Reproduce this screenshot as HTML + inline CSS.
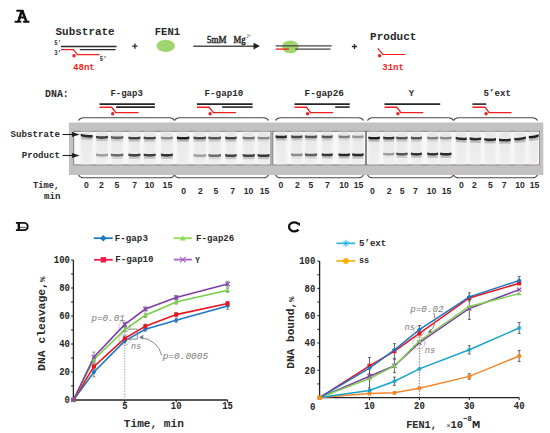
<!DOCTYPE html>
<html><head><meta charset="utf-8"><style>
html,body{margin:0;padding:0;background:#fff;width:550px;height:433px;overflow:hidden}
svg{display:block;font-family:"Liberation Mono",monospace}
</style></head><body>
<svg width="550" height="433" viewBox="0 0 550 433">
<rect width="550" height="433" fill="#fff"/>
<path d="M18.3 21.9L21.8 10.7M22.2 10.5L26.5 21.9" stroke="#111" stroke-width="2.5" fill="none"/>
<path d="M17.1 10.8H22.8M19.2 17.5H24.9M15.4 21.8H20.6M23.9 21.8H28.7" stroke="#111" stroke-width="1.9" stroke-linecap="round" fill="none"/>
<text x="55.5" y="34.5" font-size="11" font-family="Liberation Mono" font-weight="bold" fill="#2a2a2a" textLength="59.2" lengthAdjust="spacingAndGlyphs" >Substrate</text>
<text x="54.2" y="45" font-size="8" font-family="Liberation Mono" font-weight="bold" fill="#3a3a3a" textLength="7" lengthAdjust="spacingAndGlyphs" >5’</text>
<text x="54.2" y="54.6" font-size="8" font-family="Liberation Mono" font-weight="bold" fill="#3a3a3a" textLength="7" lengthAdjust="spacingAndGlyphs" >3’</text>
<text x="99.8" y="61.2" font-size="8" font-family="Liberation Mono" font-weight="bold" fill="#3a3a3a" textLength="7" lengthAdjust="spacingAndGlyphs" >5’</text>
<path d="M61 46.5H116.6M79.8 49.6H115.5" stroke="#2a2a2a" stroke-width="1.3" fill="none"/>
<path d="M61 49.6H73.3L77.6 54.6H99.5" stroke="#f21f1f" stroke-width="1.2" fill="none"/>
<circle cx="74" cy="55.8" r="1.7" fill="#f21f1f"/>
<text x="73" y="70" font-size="9" font-family="Liberation Mono" font-weight="bold" fill="#f21f1f" textLength="21.8" lengthAdjust="spacingAndGlyphs" >48nt</text>
<path d="M132.3 46.2H137.5M134.9 43.6V48.8" stroke="#2a2a2a" stroke-width="1.3"/>
<text x="154.8" y="34.8" font-size="10.5" font-family="Liberation Mono" font-weight="bold" fill="#2a2a2a" textLength="25.2" lengthAdjust="spacingAndGlyphs" >FEN1</text>
<ellipse cx="165.7" cy="45.9" rx="9.2" ry="6.1" fill="#9fd56d"/>
<path d="M193.2 46.2H255" stroke="#505050" stroke-width="1.6"/>
<path d="M253.5 42.8L260 46.1L253.5 49.4Z" fill="#222"/>
<text x="207.1" y="42.7" font-size="10.6" font-family="Liberation Serif" fill="#2a2a2a" textLength="19.5" lengthAdjust="spacingAndGlyphs" stroke="#2a2a2a" stroke-width="0.5">5mM</text>
<text x="233.5" y="42.7" font-size="10.6" font-family="Liberation Serif" fill="#2a2a2a" textLength="12.2" lengthAdjust="spacingAndGlyphs" stroke="#2a2a2a" stroke-width="0.5">Mg</text>
<text x="246.8" y="38" font-size="5.5" font-family="Liberation Serif" fill="#2a2a2a" textLength="3.8" lengthAdjust="spacingAndGlyphs" >2+</text>
<ellipse cx="290.4" cy="46.9" rx="8.3" ry="6.4" fill="#9fd56d"/>
<path d="M275.7 45.9H331.7M295.2 49.1H330.5" stroke="#444" stroke-width="1.3"/>
<path d="M275.7 49.1H289" stroke="#f21f1f" stroke-width="1.3"/>
<path d="M351.9 46.5H357.1M354.5 43.9V49.1" stroke="#2a2a2a" stroke-width="1.3"/>
<text x="370.1" y="40.3" font-size="11" font-family="Liberation Mono" font-weight="bold" fill="#2a2a2a" textLength="46.3" lengthAdjust="spacingAndGlyphs" >Product</text>
<path d="M377.8 48.3L383 54.5H405.5" stroke="#f21f1f" stroke-width="1.2" fill="none"/>
<circle cx="379.6" cy="55.8" r="1.7" fill="#f21f1f"/>
<text x="382.2" y="70.1" font-size="9" font-family="Liberation Mono" font-weight="bold" fill="#f21f1f" textLength="21.8" lengthAdjust="spacingAndGlyphs" >31nt</text>
<text x="45" y="96.6" font-size="10" font-family="Liberation Mono" font-weight="bold" fill="#2a2a2a" textLength="23.8" lengthAdjust="spacingAndGlyphs" >DNA:</text>
<text x="110.4" y="96.3" font-size="9" font-family="Liberation Mono" font-weight="bold" fill="#2a2a2a" textLength="32.400000000000006" lengthAdjust="spacingAndGlyphs" >F-gap3</text>
<text x="204.6" y="96.3" font-size="9" font-family="Liberation Mono" font-weight="bold" fill="#2a2a2a" textLength="38.599999999999994" lengthAdjust="spacingAndGlyphs" >F-gap10</text>
<text x="304.6" y="96.3" font-size="9" font-family="Liberation Mono" font-weight="bold" fill="#2a2a2a" textLength="39.299999999999955" lengthAdjust="spacingAndGlyphs" >F-gap26</text>
<text x="408.7" y="95.8" font-size="9" font-family="Liberation Mono" font-weight="bold" fill="#2a2a2a" textLength="5.300000000000011" lengthAdjust="spacingAndGlyphs" >Y</text>
<text x="483.6" y="96.1" font-size="9" font-family="Liberation Mono" font-weight="bold" fill="#2a2a2a" textLength="27.299999999999955" lengthAdjust="spacingAndGlyphs" >5’ext</text>
<path d="M99.5 104.1H154.9" stroke="#262626" stroke-width="1.6"/>
<path d="M116.1 107.1H154.9" stroke="#262626" stroke-width="1.6"/>
<path d="M99.5 107.2H111.6L116 112.6H138.6" stroke="#f21f1f" stroke-width="1.4" fill="none"/>
<circle cx="112.69999999999999" cy="113.8" r="1.7" fill="#f21f1f"/>
<path d="M196.9 104.1H252.6" stroke="#262626" stroke-width="1.6"/>
<path d="M222.1 107.1H252.6" stroke="#262626" stroke-width="1.6"/>
<path d="M196.9 107.2H209L213.4 112.6H235.9" stroke="#f21f1f" stroke-width="1.4" fill="none"/>
<circle cx="210.1" cy="113.8" r="1.7" fill="#f21f1f"/>
<path d="M294.5 104.1H349.7" stroke="#262626" stroke-width="1.6"/>
<path d="M335.2 107.1H349.7" stroke="#262626" stroke-width="1.6"/>
<path d="M294.5 107.2H306.5L310.5 112.6H333" stroke="#f21f1f" stroke-width="1.4" fill="none"/>
<circle cx="307.6" cy="113.8" r="1.7" fill="#f21f1f"/>
<path d="M384.5 104.1H440.2" stroke="#262626" stroke-width="1.6"/>
<path d="M384.5 107.2H396.8L400.9 112.6H423.3" stroke="#f21f1f" stroke-width="1.4" fill="none"/>
<circle cx="397.90000000000003" cy="113.8" r="1.7" fill="#f21f1f"/>
<path d="M472.4 104.1H486.2" stroke="#262626" stroke-width="1.6"/>
<path d="M472.4 107.2H485L489.1 112.6H511.6" stroke="#f21f1f" stroke-width="1.4" fill="none"/>
<circle cx="486.1" cy="113.8" r="1.7" fill="#f21f1f"/>
<path d="M78.5 120.6Q80.0 117.8 83.5 117.8H169.5Q173.0 117.8 174.5 120.6" stroke="#4a4a4a" stroke-width="1.1" fill="none"/>
<path d="M78.5 174.9Q80.0 177.7 83.5 177.7H169.5Q173.0 177.7 174.5 174.9" stroke="#4a4a4a" stroke-width="1.1" fill="none"/>
<path d="M174.5 120.6Q176.0 117.8 179.5 117.8H263.6Q267.1 117.8 268.6 120.6" stroke="#4a4a4a" stroke-width="1.1" fill="none"/>
<path d="M174.5 174.9Q176.0 177.7 179.5 177.7H263.6Q267.1 177.7 268.6 174.9" stroke="#4a4a4a" stroke-width="1.1" fill="none"/>
<path d="M275.5 120.6Q277.0 117.8 280.5 117.8H358.5Q362.0 117.8 363.5 120.6" stroke="#4a4a4a" stroke-width="1.1" fill="none"/>
<path d="M275.5 174.9Q277.0 177.7 280.5 177.7H358.5Q362.0 177.7 363.5 174.9" stroke="#4a4a4a" stroke-width="1.1" fill="none"/>
<path d="M367.5 120.6Q369.0 117.8 372.5 117.8H448.5Q452.0 117.8 453.5 120.6" stroke="#4a4a4a" stroke-width="1.1" fill="none"/>
<path d="M367.5 174.9Q369.0 177.7 372.5 177.7H448.5Q452.0 177.7 453.5 174.9" stroke="#4a4a4a" stroke-width="1.1" fill="none"/>
<path d="M453.5 120.6Q455.0 117.8 458.5 117.8H532.5Q536.0 117.8 537.5 120.6" stroke="#4a4a4a" stroke-width="1.1" fill="none"/>
<path d="M453.5 174.9Q455.0 177.7 458.5 177.7H532.5Q536.0 177.7 537.5 174.9" stroke="#4a4a4a" stroke-width="1.1" fill="none"/>
<rect x="68.9" y="122.5" width="474.4" height="52.5" fill="#c3c1c1"/>
<rect x="73.7" y="131.3" width="197.10000000000002" height="33.6" fill="#f8f8f8" stroke="#777" stroke-width="0.9"/>
<rect x="272.8" y="131.3" width="92.80000000000001" height="33.6" fill="#f8f8f8" stroke="#777" stroke-width="0.9"/>
<rect x="366.4" y="131.3" width="173.10000000000002" height="33.6" fill="#f8f8f8" stroke="#777" stroke-width="0.9"/>
<defs><linearGradient id="lg" x1="0" y1="0" x2="0" y2="1"><stop offset="0" stop-color="#e6e6e6"/><stop offset="1" stop-color="#efefef"/></linearGradient><filter id="bl" x="-20%" y="-100%" width="140%" height="300%"><feGaussianBlur stdDeviation="0.6"/></filter><filter id="bl2" x="-20%" y="-20%" width="140%" height="140%"><feGaussianBlur stdDeviation="0.8"/></filter></defs>
<rect x="81.0" y="132" width="11.400000000000006" height="32" fill="url(#lg)" filter="url(#bl2)"/>
<rect x="96.3" y="132" width="11.400000000000006" height="32" fill="url(#lg)" filter="url(#bl2)"/>
<rect x="111.2" y="132" width="11.799999999999997" height="32" fill="url(#lg)" filter="url(#bl2)"/>
<rect x="128.7" y="132" width="11.400000000000006" height="32" fill="url(#lg)" filter="url(#bl2)"/>
<rect x="144.0" y="132" width="11.400000000000006" height="32" fill="url(#lg)" filter="url(#bl2)"/>
<rect x="161.2" y="132" width="11.400000000000006" height="32" fill="url(#lg)" filter="url(#bl2)"/>
<rect x="177.2" y="132" width="11.800000000000011" height="32" fill="url(#lg)" filter="url(#bl2)"/>
<rect x="193.8" y="132" width="12.0" height="32" fill="url(#lg)" filter="url(#bl2)"/>
<rect x="208.7" y="132" width="12.0" height="32" fill="url(#lg)" filter="url(#bl2)"/>
<rect x="225.5" y="132" width="10.800000000000011" height="32" fill="url(#lg)" filter="url(#bl2)"/>
<rect x="243.0" y="132" width="11.5" height="32" fill="url(#lg)" filter="url(#bl2)"/>
<rect x="257.9" y="132" width="11.300000000000011" height="32" fill="url(#lg)" filter="url(#bl2)"/>
<rect x="275.8" y="132" width="10.800000000000011" height="32" fill="url(#lg)" filter="url(#bl2)"/>
<rect x="291.4" y="132" width="10.800000000000011" height="32" fill="url(#lg)" filter="url(#bl2)"/>
<rect x="305.2" y="132" width="11.600000000000023" height="32" fill="url(#lg)" filter="url(#bl2)"/>
<rect x="322.0" y="132" width="10.399999999999977" height="32" fill="url(#lg)" filter="url(#bl2)"/>
<rect x="338.8" y="132" width="10.800000000000011" height="32" fill="url(#lg)" filter="url(#bl2)"/>
<rect x="352.5" y="132" width="10.800000000000011" height="32" fill="url(#lg)" filter="url(#bl2)"/>
<rect x="368.6" y="132" width="11.0" height="32" fill="url(#lg)" filter="url(#bl2)"/>
<rect x="383.5" y="132" width="10.5" height="32" fill="url(#lg)" filter="url(#bl2)"/>
<rect x="396.5" y="132" width="10.800000000000011" height="32" fill="url(#lg)" filter="url(#bl2)"/>
<rect x="411.2" y="132" width="10.400000000000034" height="32" fill="url(#lg)" filter="url(#bl2)"/>
<rect x="427.5" y="132" width="10.399999999999977" height="32" fill="url(#lg)" filter="url(#bl2)"/>
<rect x="440.4" y="132" width="10.800000000000011" height="32" fill="url(#lg)" filter="url(#bl2)"/>
<rect x="456.0" y="132" width="10.5" height="32" fill="url(#lg)" filter="url(#bl2)"/>
<rect x="469.9" y="132" width="10.900000000000034" height="32" fill="url(#lg)" filter="url(#bl2)"/>
<rect x="484.6" y="132" width="11.099999999999966" height="32" fill="url(#lg)" filter="url(#bl2)"/>
<rect x="499.3" y="132" width="11.099999999999966" height="32" fill="url(#lg)" filter="url(#bl2)"/>
<rect x="514.6" y="132" width="11.0" height="32" fill="url(#lg)" filter="url(#bl2)"/>
<rect x="529.1" y="132" width="9.299999999999955" height="32" fill="url(#lg)" filter="url(#bl2)"/>
<path d="M80.7 133.85Q86.7 135.4 92.7 134.95000000000002V137.45000000000002Q86.7 138.2 80.7 136.35Z" fill="rgb(41,41,41)" filter="url(#bl)"/>
<path d="M81.0 136.64999999999998L92.4 137.75V140.25L81.0 139.14999999999998Z" fill="rgb(101,101,101)" opacity="0.35" filter="url(#bl)"/>
<path d="M96.0 135.8Q102.0 136.8 108.0 135.8V138.3Q102.0 139.6 96.0 138.3Z" fill="rgb(63,63,63)" filter="url(#bl)"/>
<path d="M96.3 138.6L107.7 138.6V141.1L96.3 141.1Z" fill="rgb(123,123,123)" opacity="0.35" filter="url(#bl)"/>
<path d="M96.0 153.6Q102.0 154.6 108.0 153.6V156.1Q102.0 157.39999999999998 96.0 156.1Z" fill="rgb(159,159,159)" filter="url(#bl)"/>
<path d="M96.3 156.39999999999998L107.7 156.39999999999998V158.89999999999998L96.3 158.89999999999998Z" fill="rgb(219,219,219)" opacity="0.35" filter="url(#bl)"/>
<path d="M110.9 136.0Q117.1 137.0 123.3 136.0V138.5Q117.1 139.79999999999998 110.9 138.5Z" fill="rgb(95,95,95)" filter="url(#bl)"/>
<path d="M111.2 138.79999999999998L123.0 138.79999999999998V141.29999999999998L111.2 141.29999999999998Z" fill="rgb(155,155,155)" opacity="0.35" filter="url(#bl)"/>
<path d="M110.9 153.6Q117.1 154.6 123.3 153.6V156.1Q117.1 157.39999999999998 110.9 156.1Z" fill="rgb(106,106,106)" filter="url(#bl)"/>
<path d="M111.2 156.39999999999998L123.0 156.39999999999998V158.89999999999998L111.2 158.89999999999998Z" fill="rgb(166,166,166)" opacity="0.35" filter="url(#bl)"/>
<path d="M128.39999999999998 136.4Q134.39999999999998 137.4 140.4 136.4V138.9Q134.39999999999998 140.2 128.39999999999998 138.9Z" fill="rgb(63,63,63)" filter="url(#bl)"/>
<path d="M128.7 139.2L140.1 139.2V141.7L128.7 141.7Z" fill="rgb(123,123,123)" opacity="0.35" filter="url(#bl)"/>
<path d="M128.39999999999998 153.6Q134.39999999999998 154.6 140.4 153.6V156.1Q134.39999999999998 157.39999999999998 128.39999999999998 156.1Z" fill="rgb(63,63,63)" filter="url(#bl)"/>
<path d="M128.7 156.39999999999998L140.1 156.39999999999998V158.89999999999998L128.7 158.89999999999998Z" fill="rgb(123,123,123)" opacity="0.35" filter="url(#bl)"/>
<path d="M143.7 136.4Q149.7 137.4 155.70000000000002 136.4V138.9Q149.7 140.2 143.7 138.9Z" fill="rgb(73,73,73)" filter="url(#bl)"/>
<path d="M144.0 139.2L155.4 139.2V141.7L144.0 141.7Z" fill="rgb(133,133,133)" opacity="0.35" filter="url(#bl)"/>
<path d="M143.7 153.6Q149.7 154.6 155.70000000000002 153.6V156.1Q149.7 157.39999999999998 143.7 156.1Z" fill="rgb(63,63,63)" filter="url(#bl)"/>
<path d="M144.0 156.39999999999998L155.4 156.39999999999998V158.89999999999998L144.0 158.89999999999998Z" fill="rgb(123,123,123)" opacity="0.35" filter="url(#bl)"/>
<path d="M160.89999999999998 136.4Q166.89999999999998 137.4 172.9 136.4V138.9Q166.89999999999998 140.2 160.89999999999998 138.9Z" fill="rgb(138,138,138)" filter="url(#bl)"/>
<path d="M161.2 139.2L172.6 139.2V141.7L161.2 141.7Z" fill="rgb(198,198,198)" opacity="0.35" filter="url(#bl)"/>
<path d="M160.89999999999998 153.6Q166.89999999999998 154.6 172.9 153.6V156.1Q166.89999999999998 157.39999999999998 160.89999999999998 156.1Z" fill="rgb(52,52,52)" filter="url(#bl)"/>
<path d="M161.2 156.39999999999998L172.6 156.39999999999998V158.89999999999998L161.2 158.89999999999998Z" fill="rgb(112,112,112)" opacity="0.35" filter="url(#bl)"/>
<path d="M176.89999999999998 136.4Q183.1 137.4 189.3 136.4V138.9Q183.1 140.2 176.89999999999998 138.9Z" fill="rgb(30,30,30)" filter="url(#bl)"/>
<path d="M177.2 139.2L189.0 139.2V141.7L177.2 141.7Z" fill="rgb(90,90,90)" opacity="0.35" filter="url(#bl)"/>
<path d="M193.5 136.4Q199.8 137.4 206.10000000000002 136.4V138.9Q199.8 140.2 193.5 138.9Z" fill="rgb(73,73,73)" filter="url(#bl)"/>
<path d="M193.8 139.2L205.8 139.2V141.7L193.8 141.7Z" fill="rgb(133,133,133)" opacity="0.35" filter="url(#bl)"/>
<path d="M193.5 153.9Q199.8 154.9 206.10000000000002 153.9V156.4Q199.8 157.7 193.5 156.4Z" fill="rgb(159,159,159)" filter="url(#bl)"/>
<path d="M193.8 156.7L205.8 156.7V159.2L193.8 159.2Z" fill="rgb(219,219,219)" opacity="0.35" filter="url(#bl)"/>
<path d="M208.39999999999998 136.4Q214.7 137.4 221.0 136.4V138.9Q214.7 140.2 208.39999999999998 138.9Z" fill="rgb(84,84,84)" filter="url(#bl)"/>
<path d="M208.7 139.2L220.7 139.2V141.7L208.7 141.7Z" fill="rgb(144,144,144)" opacity="0.35" filter="url(#bl)"/>
<path d="M208.39999999999998 153.9Q214.7 154.9 221.0 153.9V156.4Q214.7 157.7 208.39999999999998 156.4Z" fill="rgb(106,106,106)" filter="url(#bl)"/>
<path d="M208.7 156.7L220.7 156.7V159.2L208.7 159.2Z" fill="rgb(166,166,166)" opacity="0.35" filter="url(#bl)"/>
<path d="M225.2 136.4Q230.9 137.4 236.60000000000002 136.4V138.9Q230.9 140.2 225.2 138.9Z" fill="rgb(63,63,63)" filter="url(#bl)"/>
<path d="M225.5 139.2L236.3 139.2V141.7L225.5 141.7Z" fill="rgb(123,123,123)" opacity="0.35" filter="url(#bl)"/>
<path d="M225.2 153.9Q230.9 154.9 236.60000000000002 153.9V156.4Q230.9 157.7 225.2 156.4Z" fill="rgb(63,63,63)" filter="url(#bl)"/>
<path d="M225.5 156.7L236.3 156.7V159.2L225.5 159.2Z" fill="rgb(123,123,123)" opacity="0.35" filter="url(#bl)"/>
<path d="M242.7 136.4Q248.75 137.4 254.8 136.4V138.9Q248.75 140.2 242.7 138.9Z" fill="rgb(116,116,116)" filter="url(#bl)"/>
<path d="M243.0 139.2L254.5 139.2V141.7L243.0 141.7Z" fill="rgb(176,176,176)" opacity="0.35" filter="url(#bl)"/>
<path d="M242.7 153.9Q248.75 154.9 254.8 153.9V156.4Q248.75 157.7 242.7 156.4Z" fill="rgb(63,63,63)" filter="url(#bl)"/>
<path d="M243.0 156.7L254.5 156.7V159.2L243.0 159.2Z" fill="rgb(123,123,123)" opacity="0.35" filter="url(#bl)"/>
<path d="M257.59999999999997 136.4Q263.54999999999995 137.4 269.5 136.4V138.9Q263.54999999999995 140.2 257.59999999999997 138.9Z" fill="rgb(138,138,138)" filter="url(#bl)"/>
<path d="M257.9 139.2L269.2 139.2V141.7L257.9 141.7Z" fill="rgb(198,198,198)" opacity="0.35" filter="url(#bl)"/>
<path d="M257.59999999999997 153.9Q263.54999999999995 154.9 269.5 153.9V156.4Q263.54999999999995 157.7 257.59999999999997 156.4Z" fill="rgb(52,52,52)" filter="url(#bl)"/>
<path d="M257.9 156.7L269.2 156.7V159.2L257.9 159.2Z" fill="rgb(112,112,112)" opacity="0.35" filter="url(#bl)"/>
<path d="M275.5 135.20000000000002Q281.20000000000005 136.20000000000002 286.90000000000003 135.20000000000002V137.70000000000002Q281.20000000000005 139.0 275.5 137.70000000000002Z" fill="rgb(41,41,41)" filter="url(#bl)"/>
<path d="M275.8 138.0L286.6 138.0V140.5L275.8 140.5Z" fill="rgb(101,101,101)" opacity="0.35" filter="url(#bl)"/>
<path d="M291.09999999999997 135.20000000000002Q296.79999999999995 136.20000000000002 302.5 135.20000000000002V137.70000000000002Q296.79999999999995 139.0 291.09999999999997 137.70000000000002Z" fill="rgb(73,73,73)" filter="url(#bl)"/>
<path d="M291.4 138.0L302.2 138.0V140.5L291.4 140.5Z" fill="rgb(133,133,133)" opacity="0.35" filter="url(#bl)"/>
<path d="M291.09999999999997 153.20000000000002Q296.79999999999995 154.20000000000002 302.5 153.20000000000002V155.70000000000002Q296.79999999999995 157.0 291.09999999999997 155.70000000000002Z" fill="rgb(138,138,138)" filter="url(#bl)"/>
<path d="M291.4 156.0L302.2 156.0V158.5L291.4 158.5Z" fill="rgb(198,198,198)" opacity="0.35" filter="url(#bl)"/>
<path d="M304.9 135.20000000000002Q311.0 136.20000000000002 317.1 135.20000000000002V137.70000000000002Q311.0 139.0 304.9 137.70000000000002Z" fill="rgb(84,84,84)" filter="url(#bl)"/>
<path d="M305.2 138.0L316.8 138.0V140.5L305.2 140.5Z" fill="rgb(144,144,144)" opacity="0.35" filter="url(#bl)"/>
<path d="M304.9 153.20000000000002Q311.0 154.20000000000002 317.1 153.20000000000002V155.70000000000002Q311.0 157.0 304.9 155.70000000000002Z" fill="rgb(95,95,95)" filter="url(#bl)"/>
<path d="M305.2 156.0L316.8 156.0V158.5L305.2 158.5Z" fill="rgb(155,155,155)" opacity="0.35" filter="url(#bl)"/>
<path d="M321.7 135.20000000000002Q327.2 136.20000000000002 332.7 135.20000000000002V137.70000000000002Q327.2 139.0 321.7 137.70000000000002Z" fill="rgb(84,84,84)" filter="url(#bl)"/>
<path d="M322.0 138.0L332.4 138.0V140.5L322.0 140.5Z" fill="rgb(144,144,144)" opacity="0.35" filter="url(#bl)"/>
<path d="M321.7 153.20000000000002Q327.2 154.20000000000002 332.7 153.20000000000002V155.70000000000002Q327.2 157.0 321.7 155.70000000000002Z" fill="rgb(52,52,52)" filter="url(#bl)"/>
<path d="M322.0 156.0L332.4 156.0V158.5L322.0 158.5Z" fill="rgb(112,112,112)" opacity="0.35" filter="url(#bl)"/>
<path d="M338.5 135.20000000000002Q344.20000000000005 136.20000000000002 349.90000000000003 135.20000000000002V137.70000000000002Q344.20000000000005 139.0 338.5 137.70000000000002Z" fill="rgb(127,127,127)" filter="url(#bl)"/>
<path d="M338.8 138.0L349.6 138.0V140.5L338.8 140.5Z" fill="rgb(187,187,187)" opacity="0.35" filter="url(#bl)"/>
<path d="M338.5 153.20000000000002Q344.20000000000005 154.20000000000002 349.90000000000003 153.20000000000002V155.70000000000002Q344.20000000000005 157.0 338.5 155.70000000000002Z" fill="rgb(41,41,41)" filter="url(#bl)"/>
<path d="M338.8 156.0L349.6 156.0V158.5L338.8 158.5Z" fill="rgb(101,101,101)" opacity="0.35" filter="url(#bl)"/>
<path d="M352.2 135.20000000000002Q357.9 136.20000000000002 363.6 135.20000000000002V137.70000000000002Q357.9 139.0 352.2 137.70000000000002Z" fill="rgb(149,149,149)" filter="url(#bl)"/>
<path d="M352.5 138.0L363.3 138.0V140.5L352.5 140.5Z" fill="rgb(209,209,209)" opacity="0.35" filter="url(#bl)"/>
<path d="M352.2 153.20000000000002Q357.9 154.20000000000002 363.6 153.20000000000002V155.70000000000002Q357.9 157.0 352.2 155.70000000000002Z" fill="rgb(41,41,41)" filter="url(#bl)"/>
<path d="M352.5 156.0L363.3 156.0V158.5L352.5 158.5Z" fill="rgb(101,101,101)" opacity="0.35" filter="url(#bl)"/>
<path d="M368.3 136.4Q374.1 137.4 379.90000000000003 136.4V138.9Q374.1 140.2 368.3 138.9Z" fill="rgb(30,30,30)" filter="url(#bl)"/>
<path d="M368.6 139.2L379.6 139.2V141.7L368.6 141.7Z" fill="rgb(90,90,90)" opacity="0.35" filter="url(#bl)"/>
<path d="M383.2 136.4Q388.75 137.4 394.3 136.4V138.9Q388.75 140.2 383.2 138.9Z" fill="rgb(52,52,52)" filter="url(#bl)"/>
<path d="M383.5 139.2L394.0 139.2V141.7L383.5 141.7Z" fill="rgb(112,112,112)" opacity="0.35" filter="url(#bl)"/>
<path d="M383.2 152.6Q388.75 153.6 394.3 152.6V155.1Q388.75 156.39999999999998 383.2 155.1Z" fill="rgb(159,159,159)" filter="url(#bl)"/>
<path d="M383.5 155.39999999999998L394.0 155.39999999999998V157.89999999999998L383.5 157.89999999999998Z" fill="rgb(219,219,219)" opacity="0.35" filter="url(#bl)"/>
<path d="M396.2 136.4Q401.9 137.4 407.6 136.4V138.9Q401.9 140.2 396.2 138.9Z" fill="rgb(84,84,84)" filter="url(#bl)"/>
<path d="M396.5 139.2L407.3 139.2V141.7L396.5 141.7Z" fill="rgb(144,144,144)" opacity="0.35" filter="url(#bl)"/>
<path d="M396.2 152.6Q401.9 153.6 407.6 152.6V155.1Q401.9 156.39999999999998 396.2 155.1Z" fill="rgb(84,84,84)" filter="url(#bl)"/>
<path d="M396.5 155.39999999999998L407.3 155.39999999999998V157.89999999999998L396.5 157.89999999999998Z" fill="rgb(144,144,144)" opacity="0.35" filter="url(#bl)"/>
<path d="M410.9 136.4Q416.4 137.4 421.90000000000003 136.4V138.9Q416.4 140.2 410.9 138.9Z" fill="rgb(84,84,84)" filter="url(#bl)"/>
<path d="M411.2 139.2L421.6 139.2V141.7L411.2 141.7Z" fill="rgb(144,144,144)" opacity="0.35" filter="url(#bl)"/>
<path d="M410.9 152.6Q416.4 153.6 421.90000000000003 152.6V155.1Q416.4 156.39999999999998 410.9 155.1Z" fill="rgb(52,52,52)" filter="url(#bl)"/>
<path d="M411.2 155.39999999999998L421.6 155.39999999999998V157.89999999999998L411.2 157.89999999999998Z" fill="rgb(112,112,112)" opacity="0.35" filter="url(#bl)"/>
<path d="M427.2 136.4Q432.7 137.4 438.2 136.4V138.9Q432.7 140.2 427.2 138.9Z" fill="rgb(127,127,127)" filter="url(#bl)"/>
<path d="M427.5 139.2L437.9 139.2V141.7L427.5 141.7Z" fill="rgb(187,187,187)" opacity="0.35" filter="url(#bl)"/>
<path d="M427.2 152.6Q432.7 153.6 438.2 152.6V155.1Q432.7 156.39999999999998 427.2 155.1Z" fill="rgb(52,52,52)" filter="url(#bl)"/>
<path d="M427.5 155.39999999999998L437.9 155.39999999999998V157.89999999999998L427.5 157.89999999999998Z" fill="rgb(112,112,112)" opacity="0.35" filter="url(#bl)"/>
<path d="M440.09999999999997 136.4Q445.79999999999995 137.4 451.5 136.4V138.9Q445.79999999999995 140.2 440.09999999999997 138.9Z" fill="rgb(138,138,138)" filter="url(#bl)"/>
<path d="M440.4 139.2L451.2 139.2V141.7L440.4 141.7Z" fill="rgb(198,198,198)" opacity="0.35" filter="url(#bl)"/>
<path d="M440.09999999999997 152.6Q445.79999999999995 153.6 451.5 152.6V155.1Q445.79999999999995 156.39999999999998 440.09999999999997 155.1Z" fill="rgb(41,41,41)" filter="url(#bl)"/>
<path d="M440.4 155.39999999999998L451.2 155.39999999999998V157.89999999999998L440.4 157.89999999999998Z" fill="rgb(101,101,101)" opacity="0.35" filter="url(#bl)"/>
<path d="M455.7 136.79999999999998Q461.25 138.1 466.8 137.4V139.9Q461.25 140.89999999999998 455.7 139.29999999999998Z" fill="rgb(41,41,41)" filter="url(#bl)"/>
<path d="M456.0 139.59999999999997L466.5 140.2V142.7L456.0 142.09999999999997Z" fill="rgb(101,101,101)" opacity="0.35" filter="url(#bl)"/>
<path d="M469.59999999999997 137.20000000000002Q475.35 138.4 481.1 137.6V140.1Q475.35 141.2 469.59999999999997 139.70000000000002Z" fill="rgb(41,41,41)" filter="url(#bl)"/>
<path d="M469.9 140.0L480.8 140.39999999999998V142.89999999999998L469.9 142.5Z" fill="rgb(101,101,101)" opacity="0.35" filter="url(#bl)"/>
<path d="M484.3 138.0Q490.15 139.0 496.0 138.0V140.5Q490.15 141.79999999999998 484.3 140.5Z" fill="rgb(41,41,41)" filter="url(#bl)"/>
<path d="M484.6 140.79999999999998L495.7 140.79999999999998V143.29999999999998L484.6 143.29999999999998Z" fill="rgb(101,101,101)" opacity="0.35" filter="url(#bl)"/>
<path d="M499.0 138.4Q504.85 139.4 510.7 138.4V140.9Q504.85 142.2 499.0 140.9Z" fill="rgb(41,41,41)" filter="url(#bl)"/>
<path d="M499.3 141.2L510.4 141.2V143.7L499.3 143.7Z" fill="rgb(101,101,101)" opacity="0.35" filter="url(#bl)"/>
<path d="M514.3000000000001 137.8Q520.1 138.20000000000002 525.9 136.60000000000002V139.10000000000002Q520.1 141.0 514.3000000000001 140.3Z" fill="rgb(41,41,41)" filter="url(#bl)"/>
<path d="M514.6 140.6L525.6 139.4V141.9L514.6 143.1Z" fill="rgb(101,101,101)" opacity="0.35" filter="url(#bl)"/>
<path d="M528.8000000000001 135.85Q533.75 136.1 538.6999999999999 134.35V136.85Q533.75 138.89999999999998 528.8000000000001 138.35Z" fill="rgb(30,30,30)" filter="url(#bl)"/>
<path d="M529.1 138.64999999999998L538.4 137.14999999999998V139.64999999999998L529.1 141.14999999999998Z" fill="rgb(90,90,90)" opacity="0.35" filter="url(#bl)"/>
<text x="10.5" y="136.6" font-size="9.2" font-family="Liberation Mono" font-weight="bold" fill="#2a2a2a" textLength="49.4" lengthAdjust="spacingAndGlyphs" >Substrate</text>
<text x="21.8" y="158.2" font-size="9.2" font-family="Liberation Mono" font-weight="bold" fill="#2a2a2a" textLength="38.1" lengthAdjust="spacingAndGlyphs" >Product</text>
<path d="M62.5 134.5H74" stroke="#222" stroke-width="1.1"/>
<path d="M72 131.9L79.6 134.5L72 137.1Z" fill="#222"/>
<path d="M62.5 155.5H74" stroke="#222" stroke-width="1.1"/>
<path d="M72 152.9L79.6 155.5L72 158.1Z" fill="#222"/>
<text x="86.3" y="188" font-size="8.6" font-family="Liberation Sans" font-weight="bold" fill="#2a2a2a" text-anchor="middle" >0</text>
<text x="101.4" y="188" font-size="8.6" font-family="Liberation Sans" font-weight="bold" fill="#2a2a2a" text-anchor="middle" >2</text>
<text x="116.8" y="188" font-size="8.6" font-family="Liberation Sans" font-weight="bold" fill="#2a2a2a" text-anchor="middle" >5</text>
<text x="134.6" y="188" font-size="8.6" font-family="Liberation Sans" font-weight="bold" fill="#2a2a2a" text-anchor="middle" >7</text>
<text x="149.5" y="188" font-size="8.6" font-family="Liberation Sans" font-weight="bold" fill="#2a2a2a" text-anchor="middle" >10</text>
<text x="167.4" y="188" font-size="8.6" font-family="Liberation Sans" font-weight="bold" fill="#2a2a2a" text-anchor="middle" >15</text>
<text x="183.6" y="194" font-size="8.6" font-family="Liberation Sans" font-weight="bold" fill="#2a2a2a" text-anchor="middle" >0</text>
<text x="200.5" y="194" font-size="8.6" font-family="Liberation Sans" font-weight="bold" fill="#2a2a2a" text-anchor="middle" >2</text>
<text x="216" y="194" font-size="8.6" font-family="Liberation Sans" font-weight="bold" fill="#2a2a2a" text-anchor="middle" >5</text>
<text x="232.7" y="194" font-size="8.6" font-family="Liberation Sans" font-weight="bold" fill="#2a2a2a" text-anchor="middle" >7</text>
<text x="248.5" y="194" font-size="8.6" font-family="Liberation Sans" font-weight="bold" fill="#2a2a2a" text-anchor="middle" >10</text>
<text x="264.5" y="194" font-size="8.6" font-family="Liberation Sans" font-weight="bold" fill="#2a2a2a" text-anchor="middle" >15</text>
<text x="280.9" y="187.6" font-size="8.6" font-family="Liberation Sans" font-weight="bold" fill="#2a2a2a" text-anchor="middle" >0</text>
<text x="297.3" y="187.6" font-size="8.6" font-family="Liberation Sans" font-weight="bold" fill="#2a2a2a" text-anchor="middle" >2</text>
<text x="310.9" y="187.6" font-size="8.6" font-family="Liberation Sans" font-weight="bold" fill="#2a2a2a" text-anchor="middle" >5</text>
<text x="327.3" y="187.6" font-size="8.6" font-family="Liberation Sans" font-weight="bold" fill="#2a2a2a" text-anchor="middle" >7</text>
<text x="344" y="187.6" font-size="8.6" font-family="Liberation Sans" font-weight="bold" fill="#2a2a2a" text-anchor="middle" >10</text>
<text x="358.5" y="187.6" font-size="8.6" font-family="Liberation Sans" font-weight="bold" fill="#2a2a2a" text-anchor="middle" >15</text>
<text x="372.3" y="193.5" font-size="8.6" font-family="Liberation Sans" font-weight="bold" fill="#2a2a2a" text-anchor="middle" >0</text>
<text x="389.1" y="193.5" font-size="8.6" font-family="Liberation Sans" font-weight="bold" fill="#2a2a2a" text-anchor="middle" >2</text>
<text x="402.2" y="193.5" font-size="8.6" font-family="Liberation Sans" font-weight="bold" fill="#2a2a2a" text-anchor="middle" >5</text>
<text x="415.3" y="193.5" font-size="8.6" font-family="Liberation Sans" font-weight="bold" fill="#2a2a2a" text-anchor="middle" >7</text>
<text x="431.6" y="193.5" font-size="8.6" font-family="Liberation Sans" font-weight="bold" fill="#2a2a2a" text-anchor="middle" >10</text>
<text x="446.5" y="193.5" font-size="8.6" font-family="Liberation Sans" font-weight="bold" fill="#2a2a2a" text-anchor="middle" >15</text>
<text x="461.3" y="188" font-size="8.6" font-family="Liberation Sans" font-weight="bold" fill="#2a2a2a" text-anchor="middle" >0</text>
<text x="474.5" y="188" font-size="8.6" font-family="Liberation Sans" font-weight="bold" fill="#2a2a2a" text-anchor="middle" >2</text>
<text x="490.4" y="188" font-size="8.6" font-family="Liberation Sans" font-weight="bold" fill="#2a2a2a" text-anchor="middle" >5</text>
<text x="504.2" y="188" font-size="8.6" font-family="Liberation Sans" font-weight="bold" fill="#2a2a2a" text-anchor="middle" >7</text>
<text x="520" y="188" font-size="8.6" font-family="Liberation Sans" font-weight="bold" fill="#2a2a2a" text-anchor="middle" >10</text>
<text x="534.5" y="188" font-size="8.6" font-family="Liberation Sans" font-weight="bold" fill="#2a2a2a" text-anchor="middle" >15</text>
<text x="33.1" y="188.4" font-size="9" font-family="Liberation Mono" font-weight="bold" fill="#2a2a2a" textLength="26.2" lengthAdjust="spacingAndGlyphs" >Time,</text>
<text x="44" y="198.6" font-size="9" font-family="Liberation Mono" font-weight="bold" fill="#2a2a2a" textLength="16.4" lengthAdjust="spacingAndGlyphs" >min</text>
<path d="M15.9 222H24.6V223.7H20V229.2H24V231H15.9V229.2H17.6V223.7H15.9Z" fill="#111"/>
<path d="M24.2 222.85Q27.7 223.2 27.7 226.6Q27.7 230.1 23.8 230.1" stroke="#111" stroke-width="1.9" fill="none"/>
<path d="M20 227.3H25.6" stroke="#333" stroke-width="0.9"/>
<path d="M73.4 260V400H227.6" stroke="#222" stroke-width="1.3" fill="none"/>
<path d="M71.10000000000001 386.0H73.4" stroke="#222" stroke-width="1"/>
<path d="M71.10000000000001 372.0H73.4" stroke="#222" stroke-width="1"/>
<path d="M71.10000000000001 358.0H73.4" stroke="#222" stroke-width="1"/>
<path d="M71.10000000000001 344.0H73.4" stroke="#222" stroke-width="1"/>
<path d="M71.10000000000001 330.0H73.4" stroke="#222" stroke-width="1"/>
<path d="M71.10000000000001 316.0H73.4" stroke="#222" stroke-width="1"/>
<path d="M71.10000000000001 302.0H73.4" stroke="#222" stroke-width="1"/>
<path d="M71.10000000000001 288.0H73.4" stroke="#222" stroke-width="1"/>
<path d="M71.10000000000001 274.0H73.4" stroke="#222" stroke-width="1"/>
<path d="M71.10000000000001 260.0H73.4" stroke="#222" stroke-width="1"/>
<text x="64.55" y="403.3" font-size="10.3" font-family="Liberation Mono" font-weight="bold" fill="#262626" textLength="5.35" lengthAdjust="spacingAndGlyphs" >0</text>
<text x="59.2" y="375.3" font-size="10.3" font-family="Liberation Mono" font-weight="bold" fill="#262626" textLength="10.7" lengthAdjust="spacingAndGlyphs" >20</text>
<text x="59.2" y="347.3" font-size="10.3" font-family="Liberation Mono" font-weight="bold" fill="#262626" textLength="10.7" lengthAdjust="spacingAndGlyphs" >40</text>
<text x="59.2" y="319.3" font-size="10.3" font-family="Liberation Mono" font-weight="bold" fill="#262626" textLength="10.7" lengthAdjust="spacingAndGlyphs" >60</text>
<text x="59.2" y="291.3" font-size="10.3" font-family="Liberation Mono" font-weight="bold" fill="#262626" textLength="10.7" lengthAdjust="spacingAndGlyphs" >80</text>
<text x="53.85" y="263.3" font-size="10.3" font-family="Liberation Mono" font-weight="bold" fill="#262626" textLength="16.05" lengthAdjust="spacingAndGlyphs" >100</text>
<path d="M124.80000000000001 400V402.5" stroke="#222" stroke-width="1"/>
<text x="122.13" y="409.3" font-size="10.3" font-family="Liberation Mono" font-weight="bold" fill="#262626" textLength="5.35" lengthAdjust="spacingAndGlyphs" >5</text>
<path d="M176.2 400V402.5" stroke="#222" stroke-width="1"/>
<text x="170.85" y="409.3" font-size="10.3" font-family="Liberation Mono" font-weight="bold" fill="#262626" textLength="10.7" lengthAdjust="spacingAndGlyphs" >10</text>
<path d="M227.6 400V402.5" stroke="#222" stroke-width="1"/>
<text x="222.25" y="409.3" font-size="10.3" font-family="Liberation Mono" font-weight="bold" fill="#262626" textLength="10.7" lengthAdjust="spacingAndGlyphs" >15</text>
<text x="123.8" y="427.1" font-size="11" font-family="Liberation Mono" font-weight="bold" fill="#2a2a2a" textLength="60.1" lengthAdjust="spacingAndGlyphs" >Time, min</text>
<text transform="translate(44.9 370.9) rotate(-90)" font-size="10.6" font-family="Liberation Mono" font-weight="bold" fill="#2a2a2a" textLength="88.8" lengthAdjust="spacingAndGlyphs">DNA cleavage,</text>
<text transform="translate(44.9 282) rotate(-90)" font-size="8" font-family="Liberation Mono" font-weight="bold" fill="#2a2a2a" textLength="5.6" lengthAdjust="spacingAndGlyphs">%</text>
<path d="M124.80000000000001 400V341" stroke="#999" stroke-width="0.9" stroke-dasharray="1.5 1.2"/>
<path d="M93.96000000000001 367.1V376.9M92.46000000000001 367.1H95.46000000000001M92.46000000000001 376.9H95.46000000000001" stroke="#777" stroke-width="0.8"/>
<path d="M124.80000000000001 338.82V343.02M123.30000000000001 338.82H126.30000000000001M123.30000000000001 343.02H126.30000000000001" stroke="#777" stroke-width="0.8"/>
<path d="M145.36 327.06V331.26M143.86 327.06H146.86M143.86 331.26H146.86" stroke="#777" stroke-width="0.8"/>
<path d="M176.2 318.1V322.3M174.7 318.1H177.7M174.7 322.3H177.7" stroke="#777" stroke-width="0.8"/>
<path d="M227.6 302.42V309.42M226.1 302.42H229.1M226.1 309.42H229.1" stroke="#777" stroke-width="0.8"/>
<path d="M93.96000000000001 363.6V369.2M92.46000000000001 363.6H95.46000000000001M92.46000000000001 369.2H95.46000000000001" stroke="#777" stroke-width="0.8"/>
<path d="M124.80000000000001 335.6V341.2M123.30000000000001 335.6H126.30000000000001M123.30000000000001 341.2H126.30000000000001" stroke="#777" stroke-width="0.8"/>
<path d="M145.36 324.12V328.32M143.86 324.12H146.86M143.86 328.32H146.86" stroke="#777" stroke-width="0.8"/>
<path d="M176.2 312.5V316.7M174.7 312.5H177.7M174.7 316.7H177.7" stroke="#777" stroke-width="0.8"/>
<path d="M227.6 301.44V305.64M226.1 301.44H229.1M226.1 305.64H229.1" stroke="#777" stroke-width="0.8"/>
<path d="M93.96000000000001 356.6V362.2M92.46000000000001 356.6H95.46000000000001M92.46000000000001 362.2H95.46000000000001" stroke="#777" stroke-width="0.8"/>
<path d="M124.80000000000001 327.48V331.68M123.30000000000001 327.48H126.30000000000001M123.30000000000001 331.68H126.30000000000001" stroke="#777" stroke-width="0.8"/>
<path d="M145.36 313.2V317.4M143.86 313.2H146.86M143.86 317.4H146.86" stroke="#777" stroke-width="0.8"/>
<path d="M176.2 299.9V304.1M174.7 299.9H177.7M174.7 304.1H177.7" stroke="#777" stroke-width="0.8"/>
<path d="M227.6 288.14V292.34000000000003M226.1 288.14H229.1M226.1 292.34000000000003H229.1" stroke="#777" stroke-width="0.8"/>
<path d="M93.96000000000001 352.12V361.92M92.46000000000001 352.12H95.46000000000001M92.46000000000001 361.92H95.46000000000001" stroke="#777" stroke-width="0.8"/>
<path d="M124.80000000000001 322.3V326.5M123.30000000000001 322.3H126.30000000000001M123.30000000000001 326.5H126.30000000000001" stroke="#777" stroke-width="0.8"/>
<path d="M145.36 306.9V311.1M143.86 306.9H146.86M143.86 311.1H146.86" stroke="#777" stroke-width="0.8"/>
<path d="M176.2 295.42V299.62M174.7 295.42H177.7M174.7 299.62H177.7" stroke="#777" stroke-width="0.8"/>
<path d="M227.6 281.28V286.88M226.1 281.28H229.1M226.1 286.88H229.1" stroke="#777" stroke-width="0.8"/>
<polyline points="73.4,400.0 94.0,372.0 124.8,340.9 145.4,329.2 176.2,320.2 227.6,305.9" stroke="#1b78c8" stroke-width="1.6" fill="none"/>
<polyline points="73.4,400.0 94.0,366.4 124.8,338.4 145.4,326.2 176.2,314.6 227.6,303.5" stroke="#e81420" stroke-width="1.6" fill="none"/>
<polyline points="73.4,400.0 94.0,359.4 124.8,329.6 145.4,315.3 176.2,302.0 227.6,290.2" stroke="#78cf48" stroke-width="1.6" fill="none"/>
<polyline points="73.4,400.0 94.0,357.0 124.8,324.4 145.4,309.0 176.2,297.5 227.6,284.1" stroke="#7e3fa8" stroke-width="1.6" fill="none"/>
<path d="M73.4 397.6L75.80000000000001 400.0L73.4 402.4L71.0 400.0Z" fill="#1b78c8"/>
<path d="M93.96000000000001 369.6L96.36000000000001 372.0L93.96000000000001 374.4L91.56 372.0Z" fill="#1b78c8"/>
<path d="M124.80000000000001 338.52000000000004L127.20000000000002 340.92L124.80000000000001 343.32L122.4 340.92Z" fill="#1b78c8"/>
<path d="M145.36 326.76L147.76000000000002 329.15999999999997L145.36 331.55999999999995L142.96 329.15999999999997Z" fill="#1b78c8"/>
<path d="M176.2 317.8L178.6 320.2L176.2 322.59999999999997L173.79999999999998 320.2Z" fill="#1b78c8"/>
<path d="M227.6 303.52000000000004L230.0 305.92L227.6 308.32L225.2 305.92Z" fill="#1b78c8"/>
<rect x="71.375" y="397.975" width="4.050000000000001" height="4.050000000000001" fill="#e81420"/>
<rect x="91.935" y="364.375" width="4.050000000000001" height="4.050000000000001" fill="#e81420"/>
<rect x="122.775" y="336.375" width="4.050000000000001" height="4.050000000000001" fill="#e81420"/>
<rect x="143.335" y="324.19500000000005" width="4.050000000000001" height="4.050000000000001" fill="#e81420"/>
<rect x="174.17499999999998" y="312.57500000000005" width="4.050000000000001" height="4.050000000000001" fill="#e81420"/>
<rect x="225.575" y="301.51500000000004" width="4.050000000000001" height="4.050000000000001" fill="#e81420"/>
<path d="M73.4 397.75L75.65 401.6875L71.15 401.6875Z" fill="#78cf48"/>
<path d="M93.96000000000001 357.15L96.21000000000001 361.0875L91.71000000000001 361.0875Z" fill="#78cf48"/>
<path d="M124.80000000000001 327.33L127.05000000000001 331.2675L122.55000000000001 331.2675Z" fill="#78cf48"/>
<path d="M145.36 313.05L147.61 316.9875L143.11 316.9875Z" fill="#78cf48"/>
<path d="M176.2 299.75L178.45 303.6875L173.95 303.6875Z" fill="#78cf48"/>
<path d="M227.6 287.99L229.85 291.9275L225.35 291.9275Z" fill="#78cf48"/>
<path d="M71.30000000000001 397.9L75.5 402.1M75.5 397.9L71.30000000000001 402.1" stroke="#7e3fa8" stroke-width="1.1"/>
<path d="M91.86000000000001 354.91999999999996L96.06 359.12M96.06 354.91999999999996L91.86000000000001 359.12" stroke="#7e3fa8" stroke-width="1.1"/>
<path d="M122.70000000000002 322.29999999999995L126.9 326.5M126.9 322.29999999999995L122.70000000000002 326.5" stroke="#7e3fa8" stroke-width="1.1"/>
<path d="M143.26000000000002 306.9L147.46 311.1M147.46 306.9L143.26000000000002 311.1" stroke="#7e3fa8" stroke-width="1.1"/>
<path d="M174.1 295.41999999999996L178.29999999999998 299.62M178.29999999999998 295.41999999999996L174.1 299.62" stroke="#7e3fa8" stroke-width="1.1"/>
<path d="M225.5 281.97999999999996L229.7 286.18M229.7 281.97999999999996L225.5 286.18" stroke="#7e3fa8" stroke-width="1.1"/>
<path d="M93.8 238.2H112.7" stroke="#1b78c8" stroke-width="1.8"/>
<path d="M103.25 235.0L106.45 238.2L103.25 241.39999999999998L100.05 238.2Z" fill="#1b78c8"/>
<text x="114.8" y="241" font-size="9" font-family="Liberation Mono" font-weight="bold" fill="#2a2a2a" textLength="33.1" lengthAdjust="spacingAndGlyphs" >F-gap3</text>
<path d="M94.1 259.8H112.7" stroke="#f41a4c" stroke-width="1.8"/>
<rect x="100.7" y="257.1" width="5.4" height="5.4" fill="#f41a4c"/>
<text x="115.2" y="262.4" font-size="9" font-family="Liberation Mono" font-weight="bold" fill="#2a2a2a" textLength="38.4" lengthAdjust="spacingAndGlyphs" >F-gap10</text>
<path d="M173.6 238.2H191.9" stroke="#8edc5a" stroke-width="1.8"/>
<path d="M182.75 235.2L185.75 240.45L179.75 240.45Z" fill="#8edc5a"/>
<text x="196.1" y="240.8" font-size="9" font-family="Liberation Mono" font-weight="bold" fill="#2a2a2a" textLength="38.2" lengthAdjust="spacingAndGlyphs" >F-gap26</text>
<path d="M173.8 259.6H191.9" stroke="#a864c8" stroke-width="1.8"/>
<path d="M180.05 256.8L185.65000000000003 262.40000000000003M185.65000000000003 256.8L180.05 262.40000000000003" stroke="#a864c8" stroke-width="1.1"/>
<text x="195.2" y="262.6" font-size="9" font-family="Liberation Mono" font-weight="bold" fill="#2a2a2a" textLength="4.6" lengthAdjust="spacingAndGlyphs" >Y</text>
<text x="91.5" y="320.7" font-size="9" font-family="Liberation Mono" font-style="italic" fill="#7a7a7a" textLength="33.2" lengthAdjust="spacingAndGlyphs" >p=0.01</text>
<text x="130.9" y="349.1" font-size="9" font-family="Liberation Mono" font-style="italic" fill="#7a7a7a" textLength="10" lengthAdjust="spacingAndGlyphs" >ns</text>
<text x="162.7" y="359.1" font-size="9.5" font-family="Liberation Mono" font-style="italic" fill="#7a7a7a" textLength="45.5" lengthAdjust="spacingAndGlyphs" >p=0.0005</text>
<circle cx="124.6" cy="326.5" r="5.6" stroke="#7a7a7a" stroke-width="0.7" fill="none" stroke-dasharray="1.5 1"/>
<circle cx="124.6" cy="339.5" r="5.6" stroke="#7a7a7a" stroke-width="0.7" fill="none" stroke-dasharray="1.5 1"/>
<path d="M127.3 329.1H137.3V339.1H127.3" stroke="#7a7a7a" stroke-width="0.9" fill="none"/>
<path d="M161.8 355.5Q158 340 140 337.3" stroke="#7a7a7a" stroke-width="0.9" fill="none"/>
<path d="M139 337.2L143.5 334.8L142.8 339.6Z" fill="#7a7a7a"/>
<path d="M298.64 224.27A5.3 4.5 0 1 0 298.48 229.62" stroke="#111" stroke-width="2.3" fill="none"/>
<path d="M299.24 222.67V225.67" stroke="#111" stroke-width="1.5"/>
<path d="M319.6 261.1V397.6H519.2" stroke="#222" stroke-width="1.3" fill="none"/>
<path d="M317.3 383.95000000000005H319.6" stroke="#222" stroke-width="1"/>
<path d="M317.3 370.3H319.6" stroke="#222" stroke-width="1"/>
<path d="M317.3 356.65000000000003H319.6" stroke="#222" stroke-width="1"/>
<path d="M317.3 343.0H319.6" stroke="#222" stroke-width="1"/>
<path d="M317.3 329.35H319.6" stroke="#222" stroke-width="1"/>
<path d="M317.3 315.70000000000005H319.6" stroke="#222" stroke-width="1"/>
<path d="M317.3 302.05H319.6" stroke="#222" stroke-width="1"/>
<path d="M317.3 288.40000000000003H319.6" stroke="#222" stroke-width="1"/>
<path d="M317.3 274.75H319.6" stroke="#222" stroke-width="1"/>
<path d="M317.3 261.1H319.6" stroke="#222" stroke-width="1"/>
<text x="304.6" y="373.6" font-size="10.3" font-family="Liberation Mono" font-weight="bold" fill="#262626" textLength="10.7" lengthAdjust="spacingAndGlyphs" >20</text>
<text x="304.6" y="346.3" font-size="10.3" font-family="Liberation Mono" font-weight="bold" fill="#262626" textLength="10.7" lengthAdjust="spacingAndGlyphs" >40</text>
<text x="304.6" y="319.00000000000006" font-size="10.3" font-family="Liberation Mono" font-weight="bold" fill="#262626" textLength="10.7" lengthAdjust="spacingAndGlyphs" >60</text>
<text x="304.6" y="291.70000000000005" font-size="10.3" font-family="Liberation Mono" font-weight="bold" fill="#262626" textLength="10.7" lengthAdjust="spacingAndGlyphs" >80</text>
<text x="299.25" y="264.40000000000003" font-size="10.3" font-family="Liberation Mono" font-weight="bold" fill="#262626" textLength="16.05" lengthAdjust="spacingAndGlyphs" >100</text>
<text x="310.02" y="409.8" font-size="10.3" font-family="Liberation Mono" font-weight="bold" fill="#262626" textLength="5.35" lengthAdjust="spacingAndGlyphs" >0</text>
<path d="M369.5 397.6V400.1" stroke="#222" stroke-width="1"/>
<text x="364.15" y="409.3" font-size="10.3" font-family="Liberation Mono" font-weight="bold" fill="#262626" textLength="10.7" lengthAdjust="spacingAndGlyphs" >10</text>
<path d="M419.40000000000003 397.6V400.1" stroke="#222" stroke-width="1"/>
<text x="414.05" y="409.3" font-size="10.3" font-family="Liberation Mono" font-weight="bold" fill="#262626" textLength="10.7" lengthAdjust="spacingAndGlyphs" >20</text>
<path d="M469.30000000000007 397.6V400.1" stroke="#222" stroke-width="1"/>
<text x="463.95" y="409.3" font-size="10.3" font-family="Liberation Mono" font-weight="bold" fill="#262626" textLength="10.7" lengthAdjust="spacingAndGlyphs" >30</text>
<path d="M519.2 397.6V400.1" stroke="#222" stroke-width="1"/>
<text x="513.85" y="409.3" font-size="10.3" font-family="Liberation Mono" font-weight="bold" fill="#262626" textLength="10.7" lengthAdjust="spacingAndGlyphs" >40</text>
<text x="406.2" y="427.9" font-size="10.5" font-family="Liberation Mono" font-weight="bold" fill="#2a2a2a" textLength="30.6" lengthAdjust="spacingAndGlyphs" >FEN1,</text>
<text x="446.4" y="427.9" font-size="7" font-family="Liberation Sans" fill="#2a2a2a" text-anchor="start" >×</text>
<text x="450.5" y="427.9" font-size="10.5" font-family="Liberation Mono" font-weight="bold" fill="#2a2a2a" textLength="12.6" lengthAdjust="spacingAndGlyphs" >10</text>
<text x="463" y="421.4" font-size="7.5" font-family="Liberation Sans" font-weight="bold" fill="#2a2a2a" text-anchor="start" >−8</text>
<text x="472" y="427.9" font-size="10.5" font-family="Liberation Mono" font-weight="bold" fill="#2a2a2a" textLength="8.2" lengthAdjust="spacingAndGlyphs" >M</text>
<text transform="translate(294.1 368.8) rotate(-90)" font-size="10.3" font-family="Liberation Mono" font-weight="bold" fill="#2a2a2a" textLength="66.9" lengthAdjust="spacingAndGlyphs">DNA bound,</text>
<text transform="translate(294.1 302) rotate(-90)" font-size="8" font-family="Liberation Mono" font-weight="bold" fill="#2a2a2a" textLength="5.6" lengthAdjust="spacingAndGlyphs">%</text>
<path d="M419.40000000000003 397.6V329" stroke="#777" stroke-width="0.9" stroke-dasharray="1.5 1.2"/>
<path d="M469.30000000000007 373.71250000000003V379.1725M467.80000000000007 373.71250000000003H470.80000000000007M467.80000000000007 379.1725H470.80000000000007" stroke="#444" stroke-width="0.8"/>
<path d="M519.2 350.50750000000005V361.4275M517.7 350.50750000000005H520.7M517.7 361.4275H520.7" stroke="#444" stroke-width="0.8"/>
<path d="M394.45000000000005 377.125V385.315M392.95000000000005 377.125H395.95000000000005M392.95000000000005 385.315H395.95000000000005" stroke="#444" stroke-width="0.8"/>
<path d="M469.30000000000007 345.73V353.92M467.80000000000007 345.73H470.80000000000007M467.80000000000007 353.92H470.80000000000007" stroke="#444" stroke-width="0.8"/>
<path d="M519.2 322.52500000000003V333.44500000000005M517.7 322.52500000000003H520.7M517.7 333.44500000000005H520.7" stroke="#444" stroke-width="0.8"/>
<path d="M394.45000000000005 358.9705V372.6205M392.95000000000005 358.9705H395.95000000000005M392.95000000000005 372.6205H395.95000000000005" stroke="#444" stroke-width="0.8"/>
<path d="M469.30000000000007 297.54550000000006V319.38550000000004M467.80000000000007 297.54550000000006H470.80000000000007M467.80000000000007 319.38550000000004H470.80000000000007" stroke="#444" stroke-width="0.8"/>
<path d="M369.5 368.935V388.045M368.0 368.935H371.0M368.0 388.045H371.0" stroke="#444" stroke-width="0.8"/>
<path d="M369.5 357.6055V373.9855M368.0 357.6055H371.0M368.0 373.9855H371.0" stroke="#444" stroke-width="0.8"/>
<path d="M394.45000000000005 343.6825V358.6975M392.95000000000005 343.6825H395.95000000000005M392.95000000000005 358.6975H395.95000000000005" stroke="#444" stroke-width="0.8"/>
<path d="M419.40000000000003 325.528V333.718M417.90000000000003 325.528H420.90000000000003M417.90000000000003 333.718H420.90000000000003" stroke="#444" stroke-width="0.8"/>
<path d="M469.30000000000007 292.76800000000003V300.958M467.80000000000007 292.76800000000003H470.80000000000007M467.80000000000007 300.958H470.80000000000007" stroke="#444" stroke-width="0.8"/>
<path d="M519.2 276.38800000000003V284.57800000000003M517.7 276.38800000000003H520.7M517.7 284.57800000000003H520.7" stroke="#444" stroke-width="0.8"/>
<polyline points="319.6,397.6 369.5,393.5 394.5,392.8 419.4,388.2 469.3,376.4 519.2,356.0" stroke="#f5862a" stroke-width="1.5" fill="none"/>
<polyline points="319.6,397.6 369.5,390.5 394.5,381.2 419.4,368.9 469.3,349.8 519.2,328.0" stroke="#1aa3c8" stroke-width="1.5" fill="none"/>
<polyline points="319.6,397.6 369.5,376.2 394.5,365.8 419.4,342.7 469.3,308.5 519.2,289.6" stroke="#7e3fa8" stroke-width="1.5" fill="none"/>
<polyline points="319.6,397.6 369.5,378.5 394.5,365.8 419.4,341.0 469.3,306.4 519.2,293.6" stroke="#7fd050" stroke-width="1.5" fill="none"/>
<polyline points="319.6,397.6 369.5,365.8 394.5,351.2 419.4,333.4 469.3,298.0 519.2,283.3" stroke="#e81420" stroke-width="1.5" fill="none"/>
<polyline points="319.6,397.6 369.5,368.1 394.5,349.8 419.4,329.6 469.3,296.9 519.2,280.5" stroke="#1b78c8" stroke-width="1.5" fill="none"/>
<circle cx="369.5" cy="393.505" r="2.1849999999999996" fill="#f5862a"/>
<circle cx="394.45000000000005" cy="392.82250000000005" r="2.1849999999999996" fill="#f5862a"/>
<circle cx="419.40000000000003" cy="388.1815" r="2.1849999999999996" fill="#f5862a"/>
<circle cx="469.30000000000007" cy="376.4425" r="2.1849999999999996" fill="#f5862a"/>
<circle cx="519.2" cy="355.96750000000003" r="2.1849999999999996" fill="#f5862a"/>
<path d="M367.25 390.502L371.75 390.502M367.9090097423303 388.9110097423303L371.0909902576697 392.0929902576697M369.5 388.252L369.5 392.752M371.0909902576697 388.9110097423303L367.9090097423303 392.0929902576697" stroke="#1aa3c8" stroke-width="1"/>
<path d="M392.20000000000005 381.22L396.70000000000005 381.22M392.85900974233033 379.6290097423303L396.04099025766976 382.81099025766974M394.45000000000005 378.97L394.45000000000005 383.47M396.04099025766976 379.6290097423303L392.85900974233033 382.81099025766974" stroke="#1aa3c8" stroke-width="1"/>
<path d="M417.15000000000003 368.935L421.65000000000003 368.935M417.8090097423303 367.3440097423303L420.99099025766975 370.5259902576697M419.40000000000003 366.685L419.40000000000003 371.185M420.99099025766975 367.3440097423303L417.8090097423303 370.5259902576697" stroke="#1aa3c8" stroke-width="1"/>
<path d="M467.05000000000007 349.82500000000005L471.55000000000007 349.82500000000005M467.70900974233035 348.23400974233033L470.8909902576698 351.41599025766976M469.30000000000007 347.57500000000005L469.30000000000007 352.07500000000005M470.8909902576698 348.23400974233033L467.70900974233035 351.41599025766976" stroke="#1aa3c8" stroke-width="1"/>
<path d="M516.95 327.985L521.45 327.985M517.6090097423303 326.3940097423303L520.7909902576698 329.57599025766973M519.2 325.735L519.2 330.235M520.7909902576698 326.3940097423303L517.6090097423303 329.57599025766973" stroke="#1aa3c8" stroke-width="1"/>
<path d="M367.4 374.0695L371.6 378.26950000000005M371.6 374.0695L367.4 378.26950000000005" stroke="#7e3fa8" stroke-width="1.1"/>
<path d="M392.35 363.6955L396.55000000000007 367.8955M396.55000000000007 363.6955L392.35 367.8955" stroke="#7e3fa8" stroke-width="1.1"/>
<path d="M417.3 340.627L421.50000000000006 344.82700000000006M421.50000000000006 340.627L417.3 344.82700000000006" stroke="#7e3fa8" stroke-width="1.1"/>
<path d="M467.20000000000005 306.3655L471.4000000000001 310.56550000000004M471.4000000000001 306.3655L467.20000000000005 310.56550000000004" stroke="#7e3fa8" stroke-width="1.1"/>
<path d="M517.1 287.5285L521.3000000000001 291.72850000000005M521.3000000000001 287.5285L517.1 291.72850000000005" stroke="#7e3fa8" stroke-width="1.1"/>
<path d="M369.5 376.24L371.75 380.1775L367.25 380.1775Z" fill="#7fd050"/>
<path d="M394.45000000000005 363.5455L396.70000000000005 367.483L392.20000000000005 367.483Z" fill="#7fd050"/>
<path d="M419.40000000000003 338.70250000000004L421.65000000000003 342.64000000000004L417.15000000000003 342.64000000000004Z" fill="#7fd050"/>
<path d="M469.30000000000007 304.168L471.55000000000007 308.1055L467.05000000000007 308.1055Z" fill="#7fd050"/>
<path d="M519.2 291.337L521.45 295.2745L516.95 295.2745Z" fill="#7fd050"/>
<rect x="367.475" y="363.7705" width="4.050000000000001" height="4.050000000000001" fill="#e81420"/>
<rect x="392.42500000000007" y="349.1650000000001" width="4.050000000000001" height="4.050000000000001" fill="#e81420"/>
<rect x="417.37500000000006" y="331.4200000000001" width="4.050000000000001" height="4.050000000000001" fill="#e81420"/>
<rect x="467.2750000000001" y="295.93000000000006" width="4.050000000000001" height="4.050000000000001" fill="#e81420"/>
<rect x="517.1750000000001" y="281.32450000000006" width="4.050000000000001" height="4.050000000000001" fill="#e81420"/>
<path d="M369.5 365.71600000000007L371.9 368.11600000000004L369.5 370.516L367.1 368.11600000000004Z" fill="#1b78c8"/>
<path d="M394.45000000000005 347.42500000000007L396.85 349.82500000000005L394.45000000000005 352.225L392.05000000000007 349.82500000000005Z" fill="#1b78c8"/>
<path d="M419.40000000000003 327.22300000000007L421.8 329.62300000000005L419.40000000000003 332.023L417.00000000000006 329.62300000000005Z" fill="#1b78c8"/>
<path d="M469.30000000000007 294.4630000000001L471.70000000000005 296.86300000000006L469.30000000000007 299.26300000000003L466.9000000000001 296.86300000000006Z" fill="#1b78c8"/>
<path d="M519.2 278.0830000000001L521.6 280.48300000000006L519.2 282.88300000000004L516.8000000000001 280.48300000000006Z" fill="#1b78c8"/>
<rect x="317.3" y="395.3" width="4.6" height="4.6" fill="#f7861f"/>
<path d="M336.3 243.3H355.2" stroke="#2ab6e8" stroke-width="1.7"/>
<path d="M342.45 243.3L349.34999999999997 243.3M343.46048160490636 240.86048160490643L348.3395183950936 245.7395183950936M345.9 239.85000000000002L345.9 246.75M348.3395183950936 240.86048160490643L343.46048160490636 245.7395183950936" stroke="#2ab6e8" stroke-width="1"/>
<text x="359" y="245.9" font-size="9" font-family="Liberation Mono" font-weight="bold" fill="#2a2a2a" textLength="27.2" lengthAdjust="spacingAndGlyphs" >5’ext</text>
<path d="M336.3 260.9H355.2" stroke="#f8b00c" stroke-width="1.7"/>
<circle cx="345.9" cy="260.9" r="2.875" fill="#f8b00c"/>
<text x="359" y="262.9" font-size="9" font-family="Liberation Mono" font-weight="bold" fill="#2a2a2a" textLength="10.2" lengthAdjust="spacingAndGlyphs" >ss</text>
<text x="410.2" y="311.8" font-size="9" font-family="Liberation Mono" font-style="italic" fill="#7a7a7a" textLength="33.3" lengthAdjust="spacingAndGlyphs" >p=0.02</text>
<text x="404.4" y="329.8" font-size="9" font-family="Liberation Mono" font-style="italic" fill="#7a7a7a" textLength="10" lengthAdjust="spacingAndGlyphs" >ns</text>
<text x="424.8" y="352.7" font-size="9" font-family="Liberation Mono" font-style="italic" fill="#7a7a7a" textLength="10.4" lengthAdjust="spacingAndGlyphs" >ns</text>
<circle cx="419" cy="331" r="5.2" stroke="#7a7a7a" stroke-width="0.7" fill="none" stroke-dasharray="1.5 1"/>
<circle cx="419" cy="343" r="6" stroke="#7a7a7a" stroke-width="0.7" fill="none" stroke-dasharray="1.5 1"/>
<path d="M433.8 313Q438 325 429 332" stroke="#7a7a7a" stroke-width="0.9" fill="none"/>
<path d="M427.5 333L430.5 328.8L432 332.6Z" fill="#7a7a7a"/>
</svg></body></html>
